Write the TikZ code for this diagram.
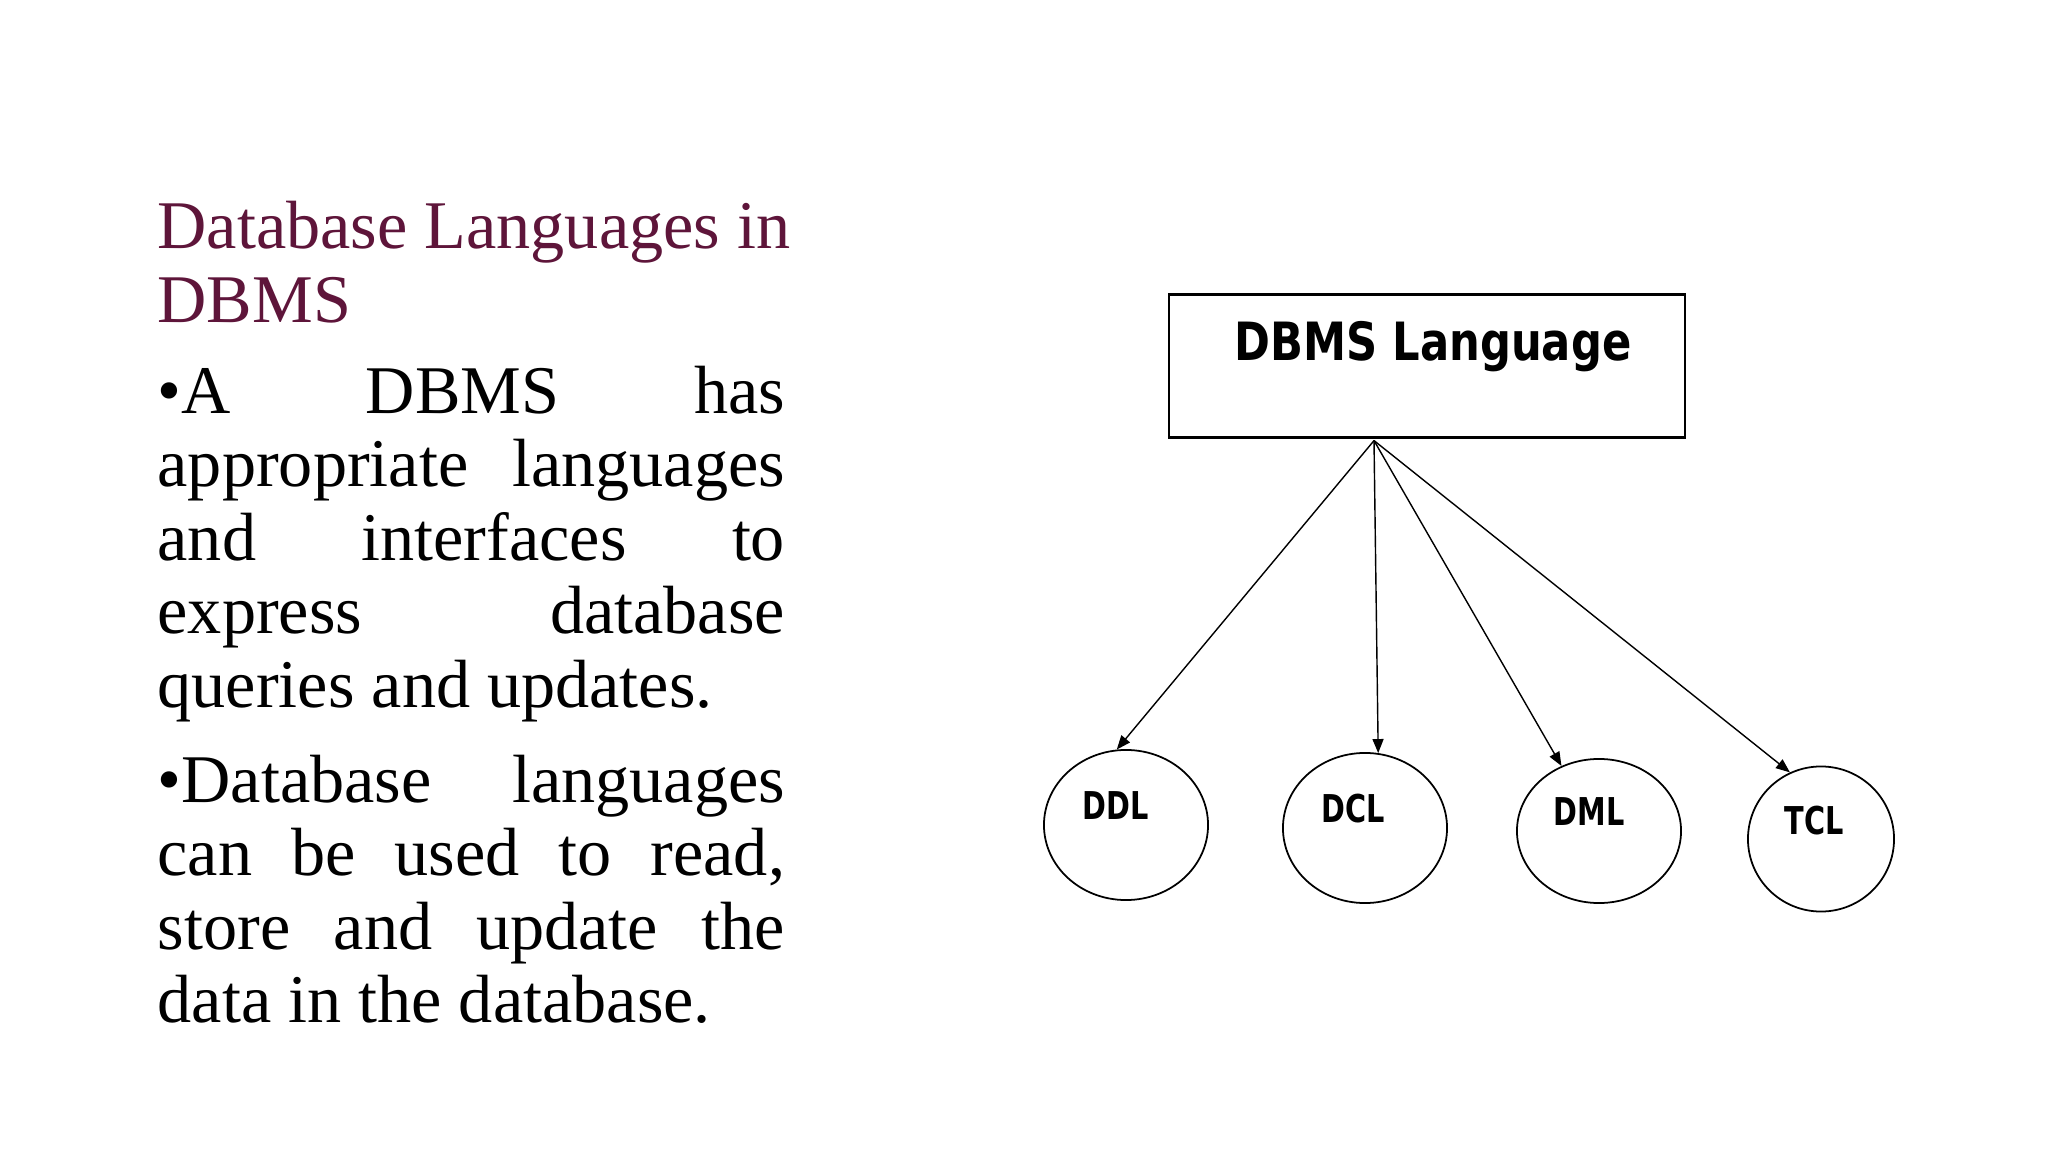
\documentclass[tikz,border=0pt]{standalone}
\usepackage{fontspec}
\setmainfont{Liberation Serif}
\newfontfamily\boxfont[FakeStretch=0.82]{DejaVu Sans}
\newfontfamily\diagfont[FakeStretch=0.75]{DejaVu Sans}
\usetikzlibrary{calc,shapes.geometric,arrows.meta}
\definecolor{titlered}{RGB}{94,21,58}

\begin{document}
\begin{tikzpicture}[x=0.01cm,y=-0.01cm,
    para/.style={inner sep=0pt,anchor=north west,text width=6.27cm,align=justify,
      font=\fontsize{19.4}{20.9}\selectfont},
    langbox/.style={draw,line width=0.6pt,inner sep=0pt,minimum width=5.16cm,minimum height=1.43cm,
      font=\boxfont\bfseries\fontsize{15}{17}\selectfont,text height=0.39cm,text depth=0.5cm},
    lang/.style={draw,ellipse,line width=0.5pt,inner sep=0pt,minimum width=1.64cm,minimum height=1.5cm,
      font=\diagfont\bfseries\fontsize{10.9}{12}\selectfont,text height=0.28cm,text depth=0.38cm},
    arr/.style={line width=0.4pt,-{Triangle[length=0.14cm,width=0.11cm]}}]
  \fill[white] (0,0) rectangle (2048,1152);
  \useasboundingbox (0,0) rectangle (2048,1152);

  % text on the left
  \node[inner sep=0pt,anchor=north west,align=left,text=titlered,
        font=\fontsize{19.4}{21.3}\selectfont] (title) at (157,200)
        {Database Languages in\\DBMS};
  \node[para] (p1) at (157,365)
        {\hyphenpenalty=10000\tolerance=9999
         •A DBMS has\linebreak appropriate languages\linebreak and interfaces to\linebreak
         express database\linebreak queries and updates.};
  \node[para] (p2) at (157,754)
        {\hyphenpenalty=10000\tolerance=9999
         •Database languages\linebreak can be used to read,\linebreak
         store and update the\linebreak data in the database.};

  % diagram
  \node[langbox] (dbms) at (1427,366) {\hspace*{0.12cm}DBMS Language};
  \coordinate (src) at ($(dbms.south)+(-53,2)$);
  \node[lang]                    (ddl) at (1126,825)          {\hspace*{-0.21cm}DDL};
  \node[lang]                    (dcl) at ($(ddl)+(239,3)$)   {\hspace*{-0.24cm}DCL};
  \node[lang,minimum height=1.44cm] (dml) at ($(dcl)+(234,3)$) {\hspace*{-0.2cm}DML};
  \node[lang,minimum width=1.46cm,minimum height=1.45cm] (tcl) at ($(dml)+(222,8)$) {\hspace*{-0.14cm}TCL};

  \path[arr] (src) edge (ddl.97)
                   edge (dcl.80)
                   edge (dml.120)
                   edge (tcl.115);
\end{tikzpicture}
\end{document}
